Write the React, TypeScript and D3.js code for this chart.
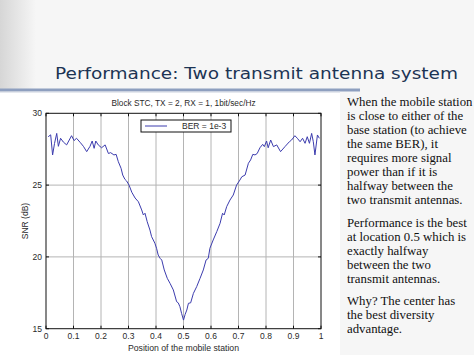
import React from "react";
import * as d3 from "d3";

const slideTitle = "Performance: Two transmit antenna system";
const chartTitle = "Block STC, TX = 2, RX = 1, 1bit/sec/Hz";
const xLabel = "Position of the mobile station";
const yLabel = "SNR (dB)";
const legendLabel = "BER = 1e-3";
const xTicks = [0, 0.1, 0.2, 0.3, 0.4, 0.5, 0.6, 0.7, 0.8, 0.9, 1];
const yTicks = [15, 20, 25, 30];

const position = [
  0.008, 0.017, 0.024, 0.031, 0.039, 0.045, 0.053, 0.063, 0.075, 0.093, 0.102, 0.111,
  0.124, 0.136, 0.148, 0.16, 0.168, 0.175, 0.181, 0.19, 0.202, 0.215, 0.227, 0.235,
  0.247, 0.255, 0.263, 0.273, 0.279, 0.287, 0.293, 0.302, 0.312, 0.324, 0.336, 0.348,
  0.354, 0.36, 0.368, 0.378, 0.384, 0.396, 0.402, 0.408, 0.415, 0.421, 0.43, 0.441,
  0.451, 0.463, 0.475, 0.481, 0.487, 0.493, 0.5, 0.506, 0.512, 0.518, 0.526, 0.536,
  0.548, 0.56, 0.572, 0.582, 0.59, 0.596, 0.608, 0.621, 0.633, 0.642, 0.648, 0.657,
  0.669, 0.681, 0.693, 0.705, 0.712, 0.724, 0.736, 0.744, 0.752, 0.76, 0.768, 0.778,
  0.788, 0.794, 0.802, 0.808, 0.817, 0.827, 0.839, 0.853, 0.869, 0.885, 0.893, 0.905,
  0.914, 0.924, 0.933, 0.942, 0.95, 0.958, 0.966, 0.972, 0.978, 0.987, 0.994,
];
const snr = [
  28.37, 28.5, 27.1, 27.9, 28.6, 27.7, 28.26, 28.0, 27.8, 28.44, 28.1, 28.26,
  27.98, 27.7, 27.33, 27.7, 28.07, 27.56, 28.07, 27.8, 27.6, 27.8, 27.2, 27.26,
  27.1, 27.14, 26.63, 26.17, 25.7, 25.4, 25.29, 25.0, 24.5, 24.1, 23.84, 23.27,
  22.92, 23.04, 22.45, 21.87, 21.41, 20.95, 20.6, 20.13, 19.9, 19.78, 19.09, 18.51,
  18.16, 17.7, 16.88, 16.8, 16.53, 16.07, 15.6, 16.0, 16.3, 16.77, 16.8, 17.46,
  17.93, 18.5, 19.09, 19.78, 19.9, 20.6, 21.18, 21.76, 22.34, 23.04, 22.92, 23.5,
  23.96, 24.31, 25.0, 25.35, 25.58, 25.7, 26.52, 26.75, 27.14, 27.1, 27.2, 27.6,
  27.84, 27.68, 28.07, 27.6, 28.14, 27.68, 27.8, 27.33, 27.68, 28.02, 28.14, 28.44,
  28.26, 28.02, 28.26, 27.91, 28.37, 27.91, 28.6, 28.02, 27.1, 28.49, 28.26,
];

const paragraphs = [
  [
    "When the mobile station",
    "is close to either of the",
    "base station (to achieve",
    "the same BER), it",
    "requires more signal",
    "power than if it is",
    "halfway between the",
    "two transmit antennas.",
  ],
  [
    "Performance is the best",
    "at location 0.5 which is",
    "exactly halfway",
    "between the two",
    "transmit antennas.",
  ],
  ["Why? The center has", "the best diversity", "advantage."],
];

export default function App() {
  const W = 474;
  const H = 355;
  const left = 46, right = 321, top = 113.3, bottom = 328.7;
  const x = d3.scaleLinear().domain([0, 1]).range([left, right]);
  const y = d3.scaleLinear().domain([15, 30]).range([bottom, top]);
  const line = d3
    .line<number>()
    .x((_, i) => x(position[i]))
    .y((d) => y(d));
  const axisFont = "'Liberation Sans', Arial, sans-serif";
  const textColor = "#2a2a2a";
  const paraStarts = [106, 227, 305];

  return (
    <svg
      width={W}
      height={H}
      style={{ position: "absolute", left: 0, top: 0, display: "block" }}
    >
      <defs>
        <linearGradient id="leftg" x1="0" x2="1" y1="0" y2="0">
          <stop offset="0" stopColor="#d6d6d6" />
          <stop offset="1" stopColor="#f6f6f6" />
        </linearGradient>
      </defs>
      <rect x={0} y={0} width={W} height={H} fill="#f6f6f6" />
      <rect x={0} y={0} width={36} height={92} fill="url(#leftg)" />
      <rect x={0} y={93} width={340} height={H - 93} fill="#ffffff" />
      <rect x={0} y={88.5} width={360} height={3} fill="#8e9fbf" />
      <rect x={0} y={91.5} width={340} height={1} fill="#d4dae6" />
      <text
        x={55}
        y={78.5}
        fontFamily="'DejaVu Sans', Verdana, sans-serif"
        fontSize={16.5}
        fill="#1c3454"
        textLength={403}
        lengthAdjust="spacingAndGlyphs"
      >
        {slideTitle}
      </text>

      {/* plot area */}
      <rect x={left} y={top} width={right - left} height={bottom - top} fill="#fff" />
      {xTicks.slice(1, -1).map((t) => (
        <line key={"gx" + t} x1={x(t)} x2={x(t)} y1={top} y2={bottom} stroke="#b4b4b4" strokeWidth={1} />
      ))}
      {yTicks.slice(1, -1).map((t) => (
        <line key={"gy" + t} x1={left} x2={right} y1={y(t)} y2={y(t)} stroke="#b4b4b4" strokeWidth={1} />
      ))}
      <path d={line(snr) || ""} fill="none" stroke="#3c3cae" strokeWidth={1} />
      <rect x={left} y={top} width={right - left} height={bottom - top} fill="none" stroke="#111" strokeWidth={1} />
      {xTicks.map((t) => (
        <g key={"tx" + t}>
          <line x1={x(t)} x2={x(t)} y1={bottom} y2={bottom - 3} stroke="#111" />
          <line x1={x(t)} x2={x(t)} y1={top} y2={top + 3} stroke="#111" />
          <text x={x(t)} y={339} textAnchor="middle" fontFamily={axisFont} fontSize={8.5} fill={textColor}>
            {String(t)}
          </text>
        </g>
      ))}
      {yTicks.map((t) => (
        <g key={"ty" + t}>
          <line x1={left} x2={left + 3} y1={y(t)} y2={y(t)} stroke="#111" />
          <line x1={right} x2={right - 3} y1={y(t)} y2={y(t)} stroke="#111" />
          <text x={left - 4} y={y(t) + 3} textAnchor="end" fontFamily={axisFont} fontSize={8.5} fill={textColor}>
            {String(t)}
          </text>
        </g>
      ))}
      <text x={(left + right) / 2} y={106} textAnchor="middle" fontFamily={axisFont} fontSize={8.3} fill={textColor}>
        {chartTitle}
      </text>
      <text x={(left + right) / 2} y={351} textAnchor="middle" fontFamily={axisFont} fontSize={8.7} fill={textColor}>
        {xLabel}
      </text>
      <text
        transform={`translate(28,${(top + bottom) / 2}) rotate(-90)`}
        textAnchor="middle"
        fontFamily={axisFont}
        fontSize={8.5}
        fill={textColor}
      >
        {yLabel}
      </text>

      {/* legend */}
      <rect x={141} y={120} width={90} height={12} fill="#fff" stroke="#111" strokeWidth={1} />
      <line x1={145} x2={167} y1={126} y2={126} stroke="#3c3cae" strokeWidth={1} />
      <text x={182} y={129} fontFamily={axisFont} fontSize={8.5} fill={textColor}>
        {legendLabel}
      </text>

      {/* right text */}
      {paragraphs.map((p, pi) =>
        p.map((ln, li) => (
          <text
            key={pi + "-" + li}
            x={347}
            y={paraStarts[pi] + li * 14}
            fontFamily="'Liberation Serif', 'Times New Roman', serif"
            fontSize={12.8}
            fill="#111"
          >
            {ln}
          </text>
        ))
      )}
    </svg>
  );
}
